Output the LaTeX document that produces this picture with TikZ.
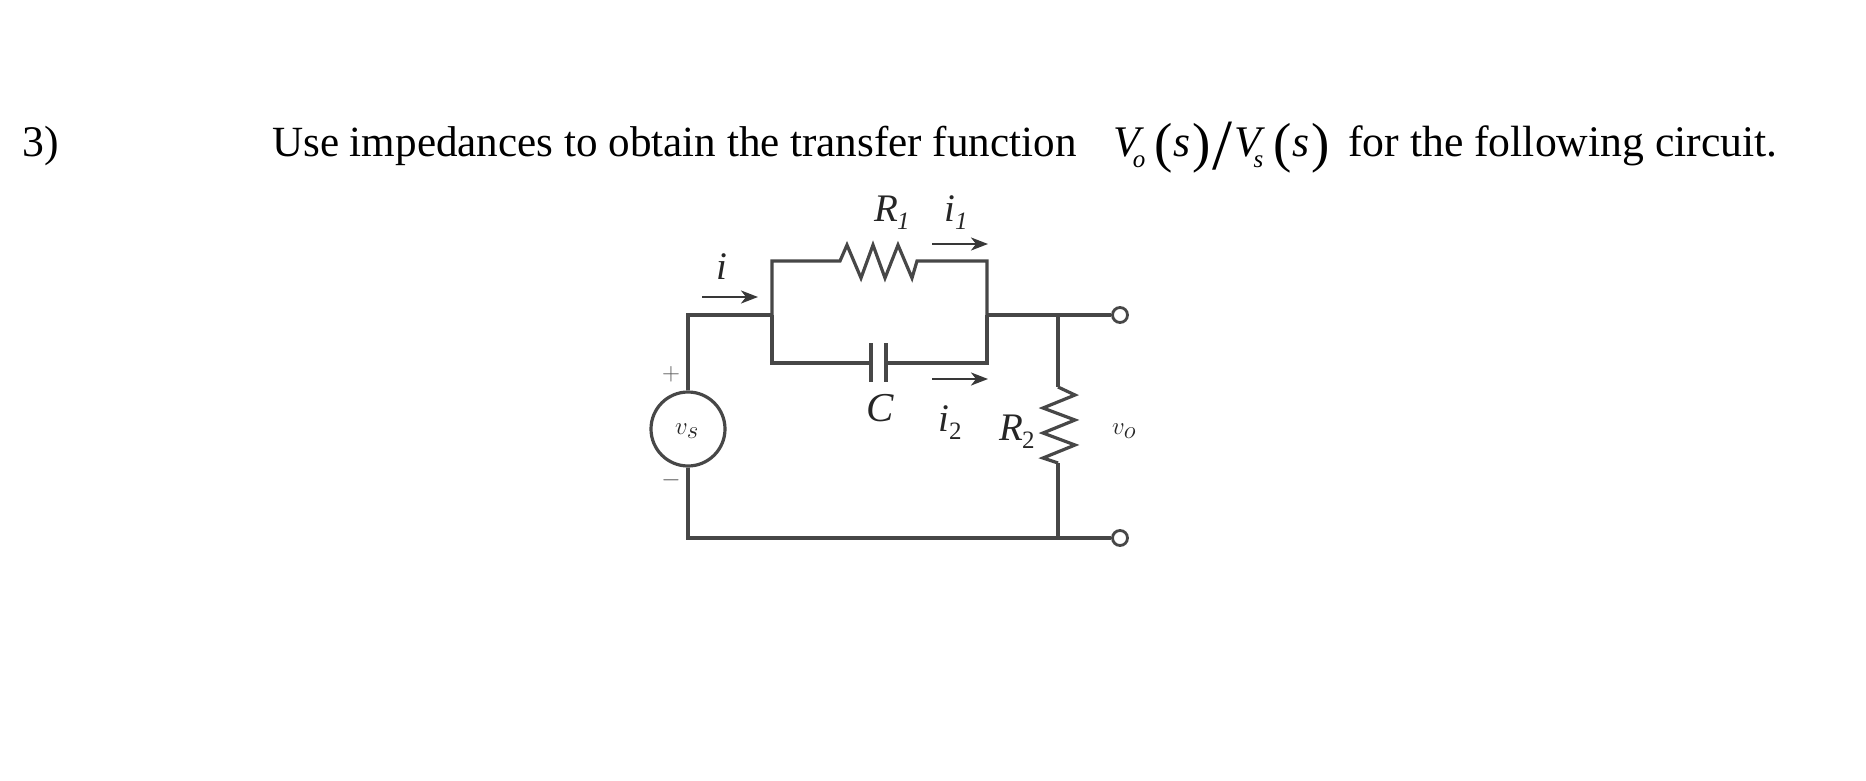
\documentclass[tikz,border=0pt]{standalone}
\usepackage{fontspec}
\setmainfont{Liberation Serif}
\usetikzlibrary{arrows.meta}
\tikzset{
  wire/.style={line width=3.2pt,color=black!72,line join=miter},
  term/.style={circle,draw=black!72,line width=2.8pt,fill=white,inner sep=0pt,minimum size=15pt},
  lab/.style={inner sep=0pt,color=black!85,font=\fontsize{39}{39}\selectfont\itshape},
  vlab/.style={inner sep=0pt,color=black!85,font=\fontsize{40}{40}\selectfont},
  head/.style={inner sep=0pt,anchor=base west,font=\fontsize{43.7}{44}\selectfont},
  curr/.style={line width=2.6pt,color=black!78,-{Stealth[length=17pt,width=13pt,inset=5pt]}},
  sign/.style={inner sep=0pt,color=black!65,font=\fontsize{36}{36}\selectfont}
}
\newcommand{\lowtext}[2]{\raisebox{#1}{\fontsize{25}{25}\selectfont #2}}
\newcommand{\bigparen}[1]{\raisebox{-5pt}{\upshape\fontsize{55}{55}\selectfont #1}}
\begin{document}
\begin{tikzpicture}[x=1pt,y=-1pt]
    \useasboundingbox (0,0) rectangle (1866,781);
    % heading
    \node[head] (qnum) at (22,157) {3)};
    \node[head,font=\fontsize{43.1}{44}\selectfont] (qtext) at (272,157) {Use impedances to obtain the transfer function};
    \node[head] (qform) at (1113,157) {\itshape V\kern-7pt\lowtext{-11pt}{o}\kern9pt\bigparen{(}\kern1pt s\kern2pt\bigparen{)}\kern1pt\raisebox{-13pt}{\upshape\fontsize{72}{72}\selectfont/}\kern2pt V\kern-7pt\lowtext{-11pt}{s}\kern10pt\bigparen{(}\kern1pt s\kern2pt\bigparen{)}};
    \node[head] (qrest) at (1348,157) {for the following circuit.};
    % circuit corners
    \foreach \n/\x/\y in {tl/688/315,bl/688/538,jl/772/315,jr/987/315,rl/772/261,rr/987/261,cl/772/363,cr/987/363,ca/871/363,cb/886/363,ru/1058/387,rd/1058/463,nt/1058/315,nb/1058/538}
      \coordinate (\n) at (\x,\y);
    \node[term] (ot) at (1120,315) {};
    \node[term] (ob) at (1120,538) {};
    \node[circle,draw=black!72,line width=3.2pt,inner sep=0pt,minimum size=74pt] (vs) at (688,429) {};
    \node[vlab] (vslab) at (687,431) {$v_s$};
    % wires
    \draw[wire] (vs.north) -- (tl) -- (jl);
    \draw[wire] (vs.south) -- (bl) -- (nb) -- (ob);
    \draw[wire] (jr) -- (nt) -- (ot);
    \draw[wire] (nt) -- (ru);
    \draw[wire] (rd) -- (nb);
    \draw[wire] (jl) -- (rl) -- (840,261) -- (847,245) -- (861,278) -- (873,245) -- (885,278) -- (898,245) -- (912,278) -- (917,261) -- (rr) -- (jr);
    \draw[wire] (jl) -- (cl) -- (ca);
    \draw[wire] (jr) -- (cr) -- (cb);
    \draw[wire] (871,343) -- (871,382);
    \draw[wire] (886,343) -- (886,382);
    \draw[wire] (ru) -- (1075,395) -- (1043,408) -- (1075,420) -- (1043,433) -- (1075,445) -- (1043,458) -- (rd);
    % current arrows
    \foreach \a/\b/\y in {702/758/297,932/988/244,932/988/379}
      \draw[curr] (\a,\y) -- (\b,\y);
    % labels
    \node[lab] (labr1) at (892,213) {R\kern-1pt\lowtext{-8pt}{1}};
    \node[lab] (labi1) at (956,213) {i\lowtext{-8pt}{1}};
    \node[lab] (labi) at (722,267) {i};
    \node[lab,font=\fontsize{41}{41}\selectfont\itshape] (labc) at (880,408) {C};
    \node[lab] (labi2) at (950,423) {i\lowtext{-8pt}{\upshape 2}};
    \node[lab] (labr2) at (1017,432) {R\kern-1pt\lowtext{-8pt}{\upshape 2}};
    \node[vlab] (labvo) at (1124,431) {$v_o$};
    \node[sign] (plus) at (671,374) {$+$};
    \node[sign] (minus) at (671,480) {$-$};
\end{tikzpicture}
\end{document}
